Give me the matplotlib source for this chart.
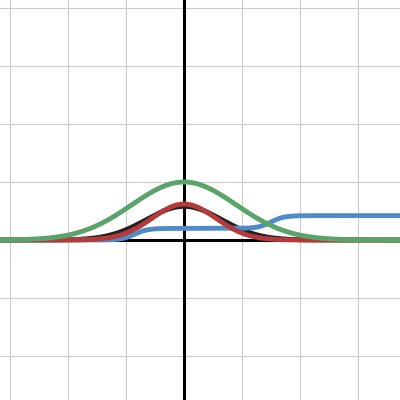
import numpy as np
import matplotlib
matplotlib.use("Agg")
import matplotlib.pyplot as plt

# curve parameters
green_peak, green_sigma = 1.0, 0.9
red_peak, red_sigma = 0.62, 0.55
black_peak, black_sigma = 0.58, 0.65
blue_steps = [(-0.85, 0.2), (1.5, 0.22)]  # (position, height)
blue_sharp = 9.0

x = np.linspace(-3.3, 3.8, 800)
def gauss(p, s): return p * np.exp(-x**2 / (2 * s**2))
blue = sum(h / (1 + np.exp(-blue_sharp * (x - c))) for c, h in blue_steps)

fig = plt.figure(figsize=(4, 4), dpi=100)
ax = fig.add_axes([0, 0, 1, 1])
ax.set_xlim(-184/58, 216/58)
ax.set_ylim(-160/58, 240/58)
for v in range(-3, 4):
    ax.axvline(v, color="#cccccc", lw=0.8, zorder=0)
for v in range(-2, 5):
    ax.axhline(v, color="#cccccc", lw=0.8, zorder=0)
ax.axvline(0, color="black", lw=2.2, zorder=1)
ax.axhline(0, color="black", lw=2.2, zorder=1)
ax.plot(x, gauss(black_peak, black_sigma), color="#222222", lw=3.5, zorder=2)
ax.plot(x, blue, color="#4f8bc9", lw=3.5, zorder=3)
ax.plot(x, gauss(red_peak, red_sigma), color="#b33b3b", lw=3.5, zorder=4)
ax.plot(x, gauss(green_peak, green_sigma), color="#5aa469", lw=3.5, zorder=5)
ax.set_xticks([]); ax.set_yticks([])
for s in ax.spines.values(): s.set_visible(False)
fig.savefig("out.png")
